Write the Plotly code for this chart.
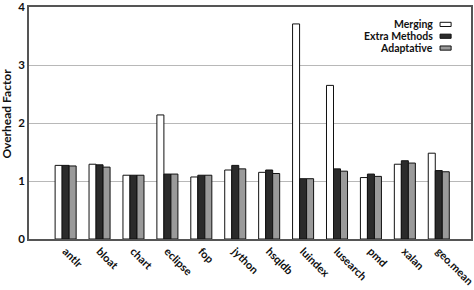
import plotly.graph_objects as go

categories = ["antlr", "bloat", "chart", "eclipse", "fop", "jython", "hsqldb",
              "luindex", "lusearch", "pmd", "xalan", "geo.mean"]
merging = [1.27, 1.29, 1.10, 2.14, 1.07, 1.19, 1.15, 3.71, 2.65, 1.06, 1.29, 1.48]
extra_methods = [1.27, 1.28, 1.10, 1.12, 1.10, 1.27, 1.19, 1.04, 1.21, 1.12, 1.35, 1.18]
adaptative = [1.26, 1.24, 1.10, 1.12, 1.10, 1.21, 1.13, 1.04, 1.17, 1.08, 1.31, 1.16]
series_names = ["Merging", "Extra Methods", "Adaptative"]
series_colors = ["#ffffff", "#2b2b2b", "#9a9a9a"]
y_ticks = [0, 1, 2, 3, 4]

FONT = "Lato"
xpos = list(range(len(categories)))

fig = go.Figure()
for name, vals, col in zip(series_names, [merging, extra_methods, adaptative], series_colors):
    fig.add_trace(go.Bar(x=xpos, y=vals, name=name, marker=dict(color=col, line=dict(color="#111111", width=1)),
                         showlegend=False))

fig.update_layout(
    width=474, height=290,
    margin=dict(l=29, r=3, t=7, b=51, autoexpand=False),
    barmode="group", bargap=0.38, bargroupgap=0,
    plot_bgcolor="white", paper_bgcolor="white",
    font=dict(family=FONT, size=11, color="#111111"),
)
fig.update_xaxes(range=[-1.08, 11.95], tickmode="array", tickvals=xpos, ticktext=categories,
                 tickangle=45, showgrid=False, showline=True, mirror=True, automargin=False,
                 linecolor="#555555", linewidth=1.5, ticks="", ticklabeloverflow="allow",
                 tickfont=dict(family=FONT, size=11, color="#111111", weight="bold"))
fig.update_yaxes(range=[0, 4.002], tickvals=y_ticks, showgrid=True, gridcolor="#b8b8b8", gridwidth=1,
                 showline=True, mirror=True, linecolor="#555555", linewidth=1.5, zeroline=False,
                 ticks="", ticklabeloverflow="allow", automargin=False,
                 tickfont=dict(family=FONT, size=11.5, color="#111111", weight="bold"))

# y-axis title
fig.add_annotation(xref="paper", yref="paper", x=-0.05, y=0.54, text="<b>Overhead Factor</b>",
                   textangle=-90, showarrow=False, xanchor="center", yanchor="middle",
                   font=dict(family=FONT, size=12, color="#111111"))

# legend drawn manually: text right-aligned with swatch on the right
leg_y = [0.925, 0.874, 0.823]
for name, col, yy in zip(series_names, series_colors, leg_y):
    fig.add_annotation(xref="paper", yref="paper", x=0.918, y=yy, text="<b>" + name + "</b>",
                       showarrow=False, xanchor="right", yanchor="middle",
                       font=dict(family=FONT, size=10.5, color="#111111"))
    fig.add_shape(type="rect", xref="paper", yref="paper", x0=0.93, x1=0.955,
                  y0=yy - 0.009, y1=yy + 0.009, fillcolor=col, line=dict(color="#111111", width=1))

fig.write_html("out.html")
